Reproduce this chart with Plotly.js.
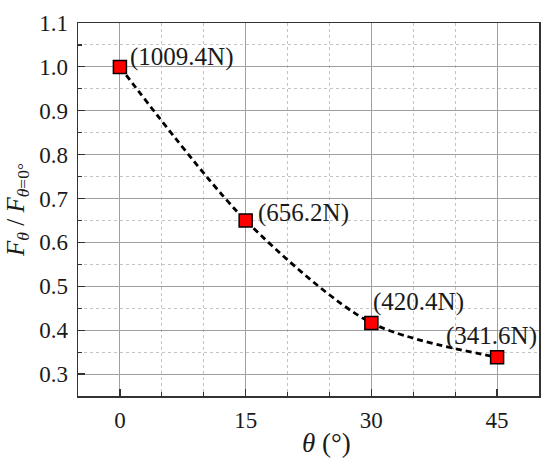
<!DOCTYPE html>
<html>
<head>
<meta charset="utf-8">
<script src="https://cdn.plot.ly/plotly-3.0.1.min.js"></script>
<style>
  html, body { margin: 0; padding: 0; background: #fff; }
  #plot { width: 550px; height: 466px; }
</style>
</head>
<body>
<div id="plot"></div>
<script>
// Normalised force vs. angle, with the absolute force printed by each point.
const THETA = [0, 15, 30, 45];
const FORCE_N = [1009.4, 656.2, 420.4, 341.6];
const RATIO = [1.0, 0.650, 0.4165, 0.3384];
const LABELS = ["(1009.4N)", "(656.2N)", "(420.4N)", "(341.6N)"];

// Label placement relative to each marker (pixels) - style only.
const LABEL_POS = [
  { xanchor: "left", xshift: 8, yshift: 10 },
  { xanchor: "left", xshift: 10, yshift: 7 },
  { xanchor: "left", xshift: 0, yshift: 21 },
  { xanchor: "center", xshift: -6, yshift: 21 },
];

const FONT = "Liberation Serif";
const INK = "#1a1a1a";

const traces = [{
  type: "scatter",
  mode: "lines+markers",
  x: THETA,
  y: RATIO,
  line: { color: "#000", width: 2.8, dash: "6px,4px", shape: "spline", smoothing: 0.8 },
  marker: { symbol: "square", size: 13, color: "#ff0000",
    line: { color: "#000", width: 1.5 } },
  cliponaxis: false,
  hoverinfo: "x+y",
}];

const annotations = LABELS.map((t, i) => ({
  x: THETA[i], y: RATIO[i], xref: "x", yref: "y",
  text: t, showarrow: false,
  xanchor: LABEL_POS[i].xanchor, yanchor: "middle",
  xshift: LABEL_POS[i].xshift, yshift: LABEL_POS[i].yshift,
  font: { family: FONT, size: 25, color: INK },
}));

// x-axis title sits a little right of centre in the original
annotations.push({
  xref: "paper", yref: "paper", x: 0.54, y: 0, yshift: -47,
  xanchor: "center", yanchor: "middle", showarrow: false,
  text: "<i>θ</i> (°)",
  font: { family: FONT, size: 27, color: INK },
});

const axisCommon = {
  showline: true, mirror: true, linecolor: "#333", linewidth: 1.5,
  showgrid: true, gridcolor: "#a0a0a0", gridwidth: 1,
  zeroline: false,
  ticks: "inside", ticklen: 7, tickwidth: 1.2, tickcolor: "#333",
  tickfont: { family: FONT, size: 23, color: INK },
};

const layout = {
  width: 550, height: 466,
  margin: { l: 78, r: 11, t: 23, b: 70 },
  paper_bgcolor: "#fff",
  plot_bgcolor: "#fff",
  showlegend: false,
  annotations: annotations,
  xaxis: Object.assign({}, axisCommon, {
    range: [-5, 50],
    tickvals: THETA,
    ticktext: THETA.map(String),
    ticklabelstandoff: 3,
    minor: { dtick: 5, tick0: 0, ticks: "inside", ticklen: 4, tickcolor: "#333",
      showgrid: true, gridcolor: "#c4c4c4", griddash: "dot", gridwidth: 1 },
  }),
  yaxis: Object.assign({}, axisCommon, {
    range: [0.25, 1.1],
    dtick: 0.1, tick0: 0.3,
    tickformat: ".1f",
    ticklabelstandoff: 4,
    minor: { dtick: 0.05, tick0: 0.25, ticks: "inside", ticklen: 4, tickcolor: "#333",
      showgrid: true, gridcolor: "#c4c4c4", griddash: "dot", gridwidth: 1 },
    title: {
      text: "<i>F</i><sub><i>θ</i></sub> / <i>F</i><sub><i>θ</i>=0°</sub>",
      font: { family: FONT, size: 25, color: INK },
      standoff: 7,
    },
  }),
};

Plotly.newPlot("plot", traces, layout, { displayModeBar: false, staticPlot: true });
</script>
</body>
</html>
